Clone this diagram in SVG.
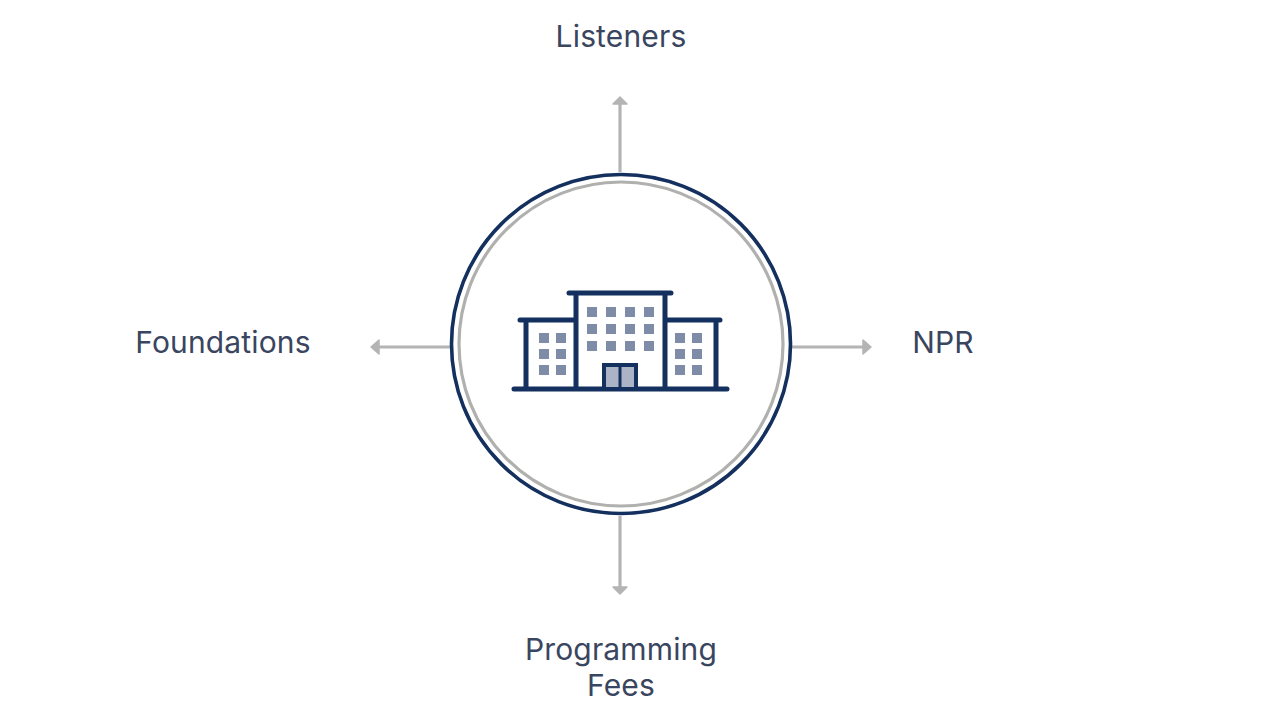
<svg xmlns="http://www.w3.org/2000/svg" width="1280" height="720" viewBox="0 0 1280 720">
<style>
.t{font-family:"Inter","Open Sans",sans-serif;font-size:30px;letter-spacing:.15px;fill:#3a4560;text-anchor:middle}
.c{stroke:#b4b4b4;stroke-width:3.2;fill:none}
.h{fill:#b4b4b4;stroke:#b4b4b4;stroke-width:1.5;stroke-linejoin:round}
.b{stroke:#14305f;stroke-width:5;fill:none;stroke-linecap:round}
.w{fill:#7f8ca8}
</style>
<defs>
<rect id="win" class="w" width="10" height="10"/>
</defs>
<rect width="1280" height="720" fill="#fff"/>
<g id="connectors">
<path class="c" d="M620 172V104"/><path class="h" d="M620 97l7 7h-14z"/>
<path class="c" d="M620 516V588"/><path class="h" d="M620 594l7-7h-14z"/>
<path class="c" d="M450 347H378"/><path class="h" d="M371 347l8-7v14z"/>
<path class="c" d="M792 347H864"/><path class="h" d="M871 347l-8-7v14z"/>
</g>
<g id="hub">
<circle cx="621" cy="344" r="169.500" fill="#fff" stroke="#14305f" stroke-width="3.600"/>
<circle cx="621" cy="344" r="162" fill="none" stroke="#b0b0ae" stroke-width="3.200"/>
<g id="building">
<path class="b" d="M514 389H727M569 293H671M520 320H574M667 320H720M526 320V389M576 293V389M665 293V389M716 320V389"/>
<rect x="604" y="365" width="32" height="24" fill="#aab4c6" stroke="#14305f" stroke-width="4"/>
<path d="M620 365V389" stroke="#14305f" stroke-width="3"/>
<use href="#win" x="539" y="333"/><use href="#win" x="556" y="333"/><use href="#win" x="539" y="349"/><use href="#win" x="556" y="349"/><use href="#win" x="539" y="365"/><use href="#win" x="556" y="365"/>
<use href="#win" x="587" y="307"/><use href="#win" x="606" y="307"/><use href="#win" x="625" y="307"/><use href="#win" x="644" y="307"/>
<use href="#win" x="587" y="324"/><use href="#win" x="606" y="324"/><use href="#win" x="625" y="324"/><use href="#win" x="644" y="324"/>
<use href="#win" x="587" y="341"/><use href="#win" x="606" y="341"/><use href="#win" x="625" y="341"/><use href="#win" x="644" y="341"/>
<use href="#win" x="675" y="333"/><use href="#win" x="692" y="333"/><use href="#win" x="675" y="349"/><use href="#win" x="692" y="349"/><use href="#win" x="675" y="365"/><use href="#win" x="692" y="365"/>
</g>
</g>
<g id="listeners"><text class="t" x="621" y="47">Listeners</text></g>
<g id="foundations"><text class="t" x="223" y="353">Foundations</text></g>
<g id="npr"><text class="t" x="943" y="353">NPR</text></g>
<g id="programming-fees"><text class="t" x="621" y="660">Programming</text><text class="t" x="621" y="696">Fees</text></g>
</svg>
